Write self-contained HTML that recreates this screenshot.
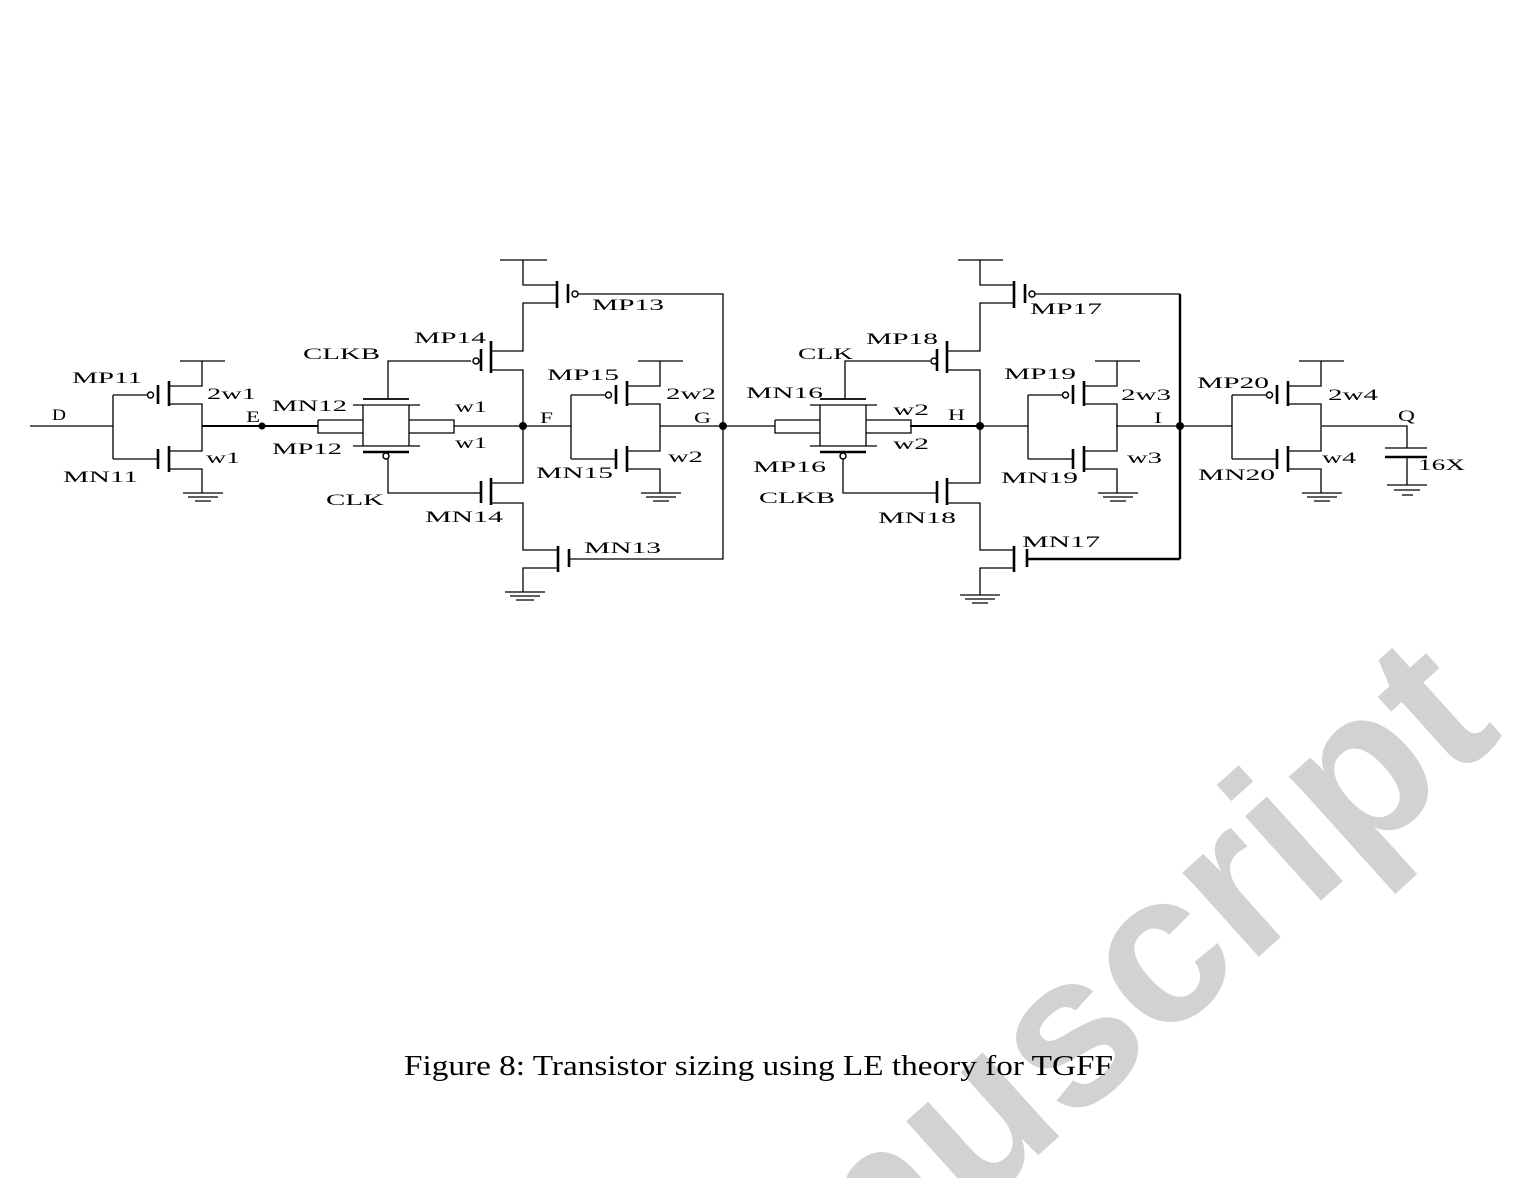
<!DOCTYPE html>
<html><head><meta charset="utf-8"><style>
html,body{margin:0;padding:0;background:#fff;overflow:hidden;}
svg{display:block;}
.t{font-family:"Liberation Serif",serif;font-size:16px;fill:#000;}
</style></head><body>
<svg width="1518" height="1178" viewBox="0 0 1518 1178" xmlns="http://www.w3.org/2000/svg">
<defs>
<g id="inv" fill="none" stroke="#000">
<path stroke-width="1.3" d="M0,-31 V33 M0,-31 H34 M56,-40 H89 V-65 M67,-65 H112 M56,-22 H89 V25 H56 M0,33 H45 M56,43 H89 V67 M70,67 H110 M75,71 H105 M82,75 H98"/>
<circle cx="37.5" cy="-31" r="3" stroke-width="1.5" fill="#fff"/>
<path stroke-width="2.6" d="M45,-41 V-22 M56,-45 V-20 M45,23 V43 M56,20 V46"/>
</g>
<g id="tg" fill="none" stroke="#000">
<path stroke-width="1.3" d="M0,-6 H45 M0,-6 V7 H45 M45,-21 V20 M91,-21 V20 M91,-6 H136 V7 H91 M35,-21 H102 M35,20 H102"/>
<path stroke-width="1.8" d="M45,-27 H91"/>
<path stroke-width="2.6" d="M45,26 H91"/>
<circle cx="68" cy="30" r="3" stroke-width="1.5" fill="#fff"/>
</g>
</defs>

<!-- watermark -->
<text x="1505" y="735" transform="rotate(-42 1505 735)" text-anchor="end" font-family="Liberation Sans, sans-serif" font-weight="bold" font-size="215" fill="#d2d2d2">Accepted Manuscript</text>

<g fill="none" stroke="#000" stroke-width="1.3">
<path d="M30,426 H113"/>
<use href="#inv" x="113" y="426"/>
<path stroke-width="2" d="M202,426 H318"/>
<use href="#tg" x="318" y="426"/>
<path d="M388,399 V361 H471 M388,459 V493 H481"/>
<path d="M454,426 H523"/>
<path d="M500,260 H547 M523,260 V285 H557 M557,303 H523 V351 H491 M491,370 H523 V483 H491 M491,503 H523 V550 H558 M558,568 H523 V592 M505,592 H545 M510,596 H540 M516,600 H534"/>
<path stroke-width="2.6" d="M557,281 V308 M568,284 V303 M481,349 V371 M491,341 V373 M481,481 V503 M491,478 V505 M558,546 V572 M569,549 V567"/>
<circle cx="575" cy="294" r="3" stroke-width="1.5" fill="#fff"/>
<circle cx="476" cy="361" r="3" stroke-width="1.5" fill="#fff"/>
<path d="M578,294 H723 V559 H569"/>
<path d="M523,426 H571"/>
<use href="#inv" x="571" y="426"/>
<path d="M660,426 H775"/>
<use href="#tg" x="775" y="426"/>
<path d="M845,399 V361 H930 M843,459 V493 H937"/>
<path stroke-width="2" d="M910,426 H980"/>
<path d="M958,260 H1003 M980,260 V285 H1014 M1014,303 H980 V351 H947 M947,370 H980 V483 H947 M947,503 H980 V550 H1014 M1014,568 H980 V595 M960,595 H1000 M965,599 H995 M972,603 H988"/>
<path stroke-width="2.6" d="M1014,281 V308 M1025,284 V303 M937,349 V371 M947,341 V373 M937,481 V503 M947,478 V505 M1014,546 V572 M1027,549 V567"/>
<circle cx="1032" cy="294" r="3" stroke-width="1.5" fill="#fff"/>
<circle cx="934" cy="361" r="3" stroke-width="1.5" fill="#fff"/>
<path d="M1035,294 H1180"/>
<path stroke-width="2.4" d="M1180,294 V559 M1027,559 H1180"/>
<path d="M980,426 H1028"/>
<use href="#inv" x="1028" y="426"/>
<path d="M1116,426 H1232"/>
<use href="#inv" x="1232" y="426"/>
<path d="M1322,426 H1407 V448 M1385,448 H1427 M1407,457 V485 M1387,485 H1427 M1394,490 H1420 M1402,495 H1413"/>
<path stroke-width="2.6" d="M1385,457 H1427"/>
</g>
<g fill="#000">
<circle cx="262" cy="426" r="3.5"/><circle cx="523" cy="426" r="4"/><circle cx="723" cy="426" r="4"/><circle cx="980" cy="426" r="4"/><circle cx="1180" cy="426" r="4"/>
</g>

<g>
<text class="t" lengthAdjust="spacingAndGlyphs" x="52" y="420" textLength="14">D</text>
<text class="t" lengthAdjust="spacingAndGlyphs" x="72" y="383" textLength="70">MP11</text>
<text class="t" lengthAdjust="spacingAndGlyphs" x="207" y="399" textLength="49">2w1</text>
<text class="t" lengthAdjust="spacingAndGlyphs" x="63" y="482" textLength="75">MN11</text>
<text class="t" lengthAdjust="spacingAndGlyphs" x="206" y="463" textLength="34">w1</text>
<text class="t" lengthAdjust="spacingAndGlyphs" x="246" y="422" textLength="14">E</text>
<text class="t" lengthAdjust="spacingAndGlyphs" x="272" y="411" textLength="75">MN12</text>
<text class="t" lengthAdjust="spacingAndGlyphs" x="272" y="454" textLength="70">MP12</text>
<text class="t" lengthAdjust="spacingAndGlyphs" x="303" y="359" textLength="77">CLKB</text>
<text class="t" lengthAdjust="spacingAndGlyphs" x="326" y="505" textLength="58">CLK</text>
<text class="t" lengthAdjust="spacingAndGlyphs" x="455" y="412" textLength="32">w1</text>
<text class="t" lengthAdjust="spacingAndGlyphs" x="455" y="448" textLength="32">w1</text>
<text class="t" lengthAdjust="spacingAndGlyphs" x="414" y="343" textLength="72">MP14</text>
<text class="t" lengthAdjust="spacingAndGlyphs" x="425" y="522" textLength="78">MN14</text>
<text class="t" lengthAdjust="spacingAndGlyphs" x="592" y="310" textLength="72">MP13</text>
<text class="t" lengthAdjust="spacingAndGlyphs" x="584" y="553" textLength="77">MN13</text>
<text class="t" lengthAdjust="spacingAndGlyphs" x="547" y="380" textLength="72">MP15</text>
<text class="t" lengthAdjust="spacingAndGlyphs" x="666" y="399" textLength="50">2w2</text>
<text class="t" lengthAdjust="spacingAndGlyphs" x="536" y="478" textLength="77">MN15</text>
<text class="t" lengthAdjust="spacingAndGlyphs" x="668" y="462" textLength="35">w2</text>
<text class="t" lengthAdjust="spacingAndGlyphs" x="540" y="423" textLength="13">F</text>
<text class="t" lengthAdjust="spacingAndGlyphs" x="694" y="423" textLength="17">G</text>
<text class="t" lengthAdjust="spacingAndGlyphs" x="746" y="398" textLength="77">MN16</text>
<text class="t" lengthAdjust="spacingAndGlyphs" x="753" y="472" textLength="73">MP16</text>
<text class="t" lengthAdjust="spacingAndGlyphs" x="798" y="359" textLength="55">CLK</text>
<text class="t" lengthAdjust="spacingAndGlyphs" x="759" y="503" textLength="76">CLKB</text>
<text class="t" lengthAdjust="spacingAndGlyphs" x="893" y="415" textLength="36">w2</text>
<text class="t" lengthAdjust="spacingAndGlyphs" x="893" y="449" textLength="36">w2</text>
<text class="t" lengthAdjust="spacingAndGlyphs" x="948" y="420" textLength="17">H</text>
<text class="t" lengthAdjust="spacingAndGlyphs" x="866" y="344" textLength="72">MP18</text>
<text class="t" lengthAdjust="spacingAndGlyphs" x="878" y="523" textLength="78">MN18</text>
<text class="t" lengthAdjust="spacingAndGlyphs" x="1030" y="314" textLength="72">MP17</text>
<text class="t" lengthAdjust="spacingAndGlyphs" x="1022" y="547" textLength="78">MN17</text>
<text class="t" lengthAdjust="spacingAndGlyphs" x="1004" y="379" textLength="72">MP19</text>
<text class="t" lengthAdjust="spacingAndGlyphs" x="1121" y="400" textLength="50">2w3</text>
<text class="t" lengthAdjust="spacingAndGlyphs" x="1001" y="483" textLength="77">MN19</text>
<text class="t" lengthAdjust="spacingAndGlyphs" x="1127" y="463" textLength="35">w3</text>
<text class="t" lengthAdjust="spacingAndGlyphs" x="1154" y="423" textLength="8">I</text>
<text class="t" lengthAdjust="spacingAndGlyphs" x="1197" y="388" textLength="72">MP20</text>
<text class="t" lengthAdjust="spacingAndGlyphs" x="1328" y="400" textLength="50">2w4</text>
<text class="t" lengthAdjust="spacingAndGlyphs" x="1198" y="480" textLength="77">MN20</text>
<text class="t" lengthAdjust="spacingAndGlyphs" x="1322" y="463" textLength="34">w4</text>
<text class="t" lengthAdjust="spacingAndGlyphs" x="1398" y="421" textLength="17">Q</text>
<text class="t" lengthAdjust="spacingAndGlyphs" x="1418" y="470" textLength="47">16X</text>
</g>

<text x="404" y="1075" textLength="709" lengthAdjust="spacingAndGlyphs" font-family="Liberation Serif, serif" font-size="29" fill="#000">Figure 8: Transistor sizing using LE theory for TGFF</text>
</svg>
</body></html>
